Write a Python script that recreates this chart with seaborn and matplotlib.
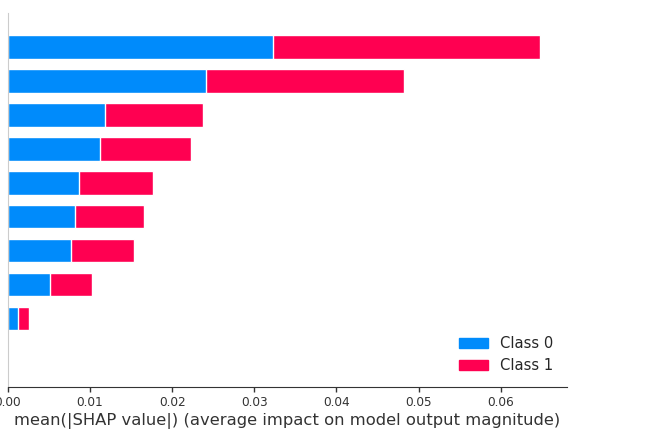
import matplotlib
matplotlib.use('Agg')
import matplotlib.pyplot as plt
import matplotlib.patches as mpatches
import pandas as pd
import seaborn as sns

sns.set_style('white')
plt.rcParams['font.family'] = ['DejaVu Sans']

# feature names are cropped out of the reference, keep placeholders
features = ['Feature 1', 'Feature 2', 'Feature 3', 'Feature 4', 'Feature 5',
            'Feature 6', 'Feature 7', 'Feature 8', 'Feature 9']
class0 = [0.0323, 0.0241, 0.0118, 0.0112, 0.0087, 0.0082, 0.0077, 0.0051, 0.0012]
class1 = [0.0325, 0.0241, 0.0120, 0.0111, 0.0089, 0.0084, 0.0076, 0.0051, 0.0013]
class_names = ['Class 0', 'Class 1']
colors = ['#008bfb', '#ff0051']

df = pd.DataFrame({'feature': features, 'class0': class0, 'class1': class1})
df['total'] = df['class0'] + df['class1']

fig = plt.figure(figsize=(6.52, 4.33), dpi=100)
ax = fig.add_axes([8 / 652, 1 - 386.5 / 433, 558.7 / 652, 373.8 / 433])

# stacked bars: draw the total in red, then class 0 in blue over it
sns.barplot(data=df, x='total', y='feature', orient='h', color=colors[1],
            width=0.7, saturation=1, ax=ax)
sns.barplot(data=df, x='class0', y='feature', orient='h', color=colors[0],
            width=0.7, saturation=1, ax=ax)

ax.set_ylim(len(features) + 1, -1)
ax.set_xlim(0, df['total'].max() * 1.05)
ax.set_ylabel('')
ax.set_xlabel('mean(|SHAP value|) (average impact on model output magnitude)',
              fontsize=11.8, color='#333333', labelpad=3)
ax.tick_params(axis='y', left=False, labelleft=False)
ax.tick_params(axis='x', labelsize=8.7, labelcolor='#333333', color='#333333',
               length=3.5, width=1, bottom=True)
for s in ['top', 'right']:
    ax.spines[s].set_visible(False)
ax.spines['left'].set_color('#cccccc')
ax.spines['bottom'].set_color('#333333')

handles = [mpatches.Patch(color=c, label=n) for c, n in zip(colors, class_names)]
ax.legend(handles=handles, loc='lower right', frameon=False, fontsize=10.6)

plt.savefig('out.png', dpi=100)
